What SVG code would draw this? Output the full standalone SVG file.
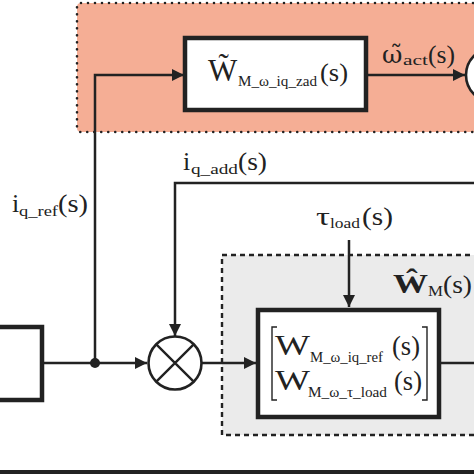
<svg xmlns="http://www.w3.org/2000/svg" width="474" height="474" viewBox="0 0 474 474">
<style>
text{font-family:"Liberation Serif","Times New Roman",serif;fill:#222}
.m{font-size:26px}
.s{font-size:15px}
.blk{fill:#fff;stroke:#222;stroke-width:4.5}
.ln{fill:none;stroke:#222;stroke-width:2.5}
.th{fill:none;stroke:#222;stroke-width:1.4}
</style>
<defs>
<marker id="ah" viewBox="0 0 12 12" refX="12" refY="6" markerWidth="12" markerHeight="12" markerUnits="userSpaceOnUse" orient="auto">
<path d="M0,0 L12,6 L0,12 z" fill="#222"/>
</marker>
</defs>
<rect width="474" height="474" fill="#fff"/>
<g id="group-observer">
<rect x="77" y="3" width="410" height="129" rx="4" fill="#f5ae95" stroke="#222" stroke-width="2.6" stroke-dasharray="0 7" stroke-linecap="round"/>
</g>
<g id="group-model">
<rect x="222" y="255" width="270" height="180" fill="#ebebeb" stroke="#222" stroke-width="2.4" stroke-dasharray="5 4"/>
<text x="393" y="293" font-size="27" font-weight="bold" textLength="35" lengthAdjust="spacingAndGlyphs">Ŵ</text>
<text x="428" y="296" class="s" textLength="15" lengthAdjust="spacingAndGlyphs">M</text>
<text x="443" y="293" class="m" textLength="29" lengthAdjust="spacingAndGlyphs">(s)</text>
</g>
<g id="connectors">
<path class="ln" d="M42,363 H147" marker-end="url(#ah)"/>
<path class="ln" d="M95,363 V75 H184" marker-end="url(#ah)"/>
<path class="ln" d="M367,75 H465" marker-end="url(#ah)"/>
<path class="ln" d="M474,183 H175 V336" marker-end="url(#ah)"/>
<path class="ln" d="M349,240 V307" marker-end="url(#ah)"/>
<path class="ln" d="M202,363 H256" marker-end="url(#ah)"/>
<path class="ln" d="M440,363 H474"/>
<circle cx="95" cy="363" r="5" fill="#222"/>
<path d="M0,472 H474" stroke="#222" stroke-width="4"/>
</g>
<g id="node-left">
<rect x="-10" y="327" width="52" height="73" class="blk"/>
</g>
<g id="node-sum">
<circle cx="175" cy="363" r="26.5" fill="#fff" stroke="#222" stroke-width="2.6"/>
<path d="M156.3,344.3 L193.7,381.7 M193.7,344.3 L156.3,381.7" stroke="#222" stroke-width="2.4"/>
</g>
<g id="node-right-circle">
<circle cx="493" cy="75" r="27" fill="#fff" stroke="#222" stroke-width="2.6"/>
</g>
<g id="node-w-zad">
<rect x="185" y="38" width="181" height="72" class="blk"/>
<text x="208" y="81" font-size="31">W̃</text>
<text x="238" y="86" class="s" textLength="79" lengthAdjust="spacingAndGlyphs">M_ω_iq_zad</text>
<text x="320" y="81" class="m" textLength="28" lengthAdjust="spacingAndGlyphs">(s)</text>
</g>
<g id="node-matrix">
<rect x="258" y="310" width="181" height="107" class="blk"/>
<path class="th" d="M277,327 H272 V400 H277 M422,327 H427 V400 H422"/>
<text x="275" y="355" font-size="30" textLength="35" lengthAdjust="spacingAndGlyphs">W</text>
<text x="310" y="362" class="s" textLength="73" lengthAdjust="spacingAndGlyphs">M_ω_iq_ref</text>
<text x="392" y="355" font-size="28" textLength="28" lengthAdjust="spacingAndGlyphs">(s)</text>
<text x="275" y="390" font-size="30" textLength="35" lengthAdjust="spacingAndGlyphs">W</text>
<text x="308" y="397" class="s" textLength="79" lengthAdjust="spacingAndGlyphs">M_ω_τ_load</text>
<text x="394" y="390" font-size="28" textLength="28" lengthAdjust="spacingAndGlyphs">(s)</text>
</g>
<g id="labels">
<text x="382" y="63" font-size="25" style="font-family:'DejaVu Serif',serif">ω̃</text>
<text x="403" y="65" class="s" textLength="25" lengthAdjust="spacingAndGlyphs">act</text>
<text x="428" y="63" class="m" textLength="27" lengthAdjust="spacingAndGlyphs">(s)</text>
<text x="183" y="170" class="m">i</text>
<text x="191" y="174" class="s" textLength="47" lengthAdjust="spacingAndGlyphs">q_add</text>
<text x="238" y="170" class="m" textLength="29" lengthAdjust="spacingAndGlyphs">(s)</text>
<text x="12" y="212" class="m">i</text>
<text x="19" y="216" class="s" textLength="39" lengthAdjust="spacingAndGlyphs">q_ref</text>
<text x="58" y="212" class="m" textLength="30" lengthAdjust="spacingAndGlyphs">(s)</text>
<text x="316" y="225" class="m" textLength="14" lengthAdjust="spacingAndGlyphs">τ</text>
<text x="330" y="228" class="s" textLength="30" lengthAdjust="spacingAndGlyphs">load</text>
<text x="362" y="225" class="m" textLength="31" lengthAdjust="spacingAndGlyphs">(s)</text>
</g>
</svg>
